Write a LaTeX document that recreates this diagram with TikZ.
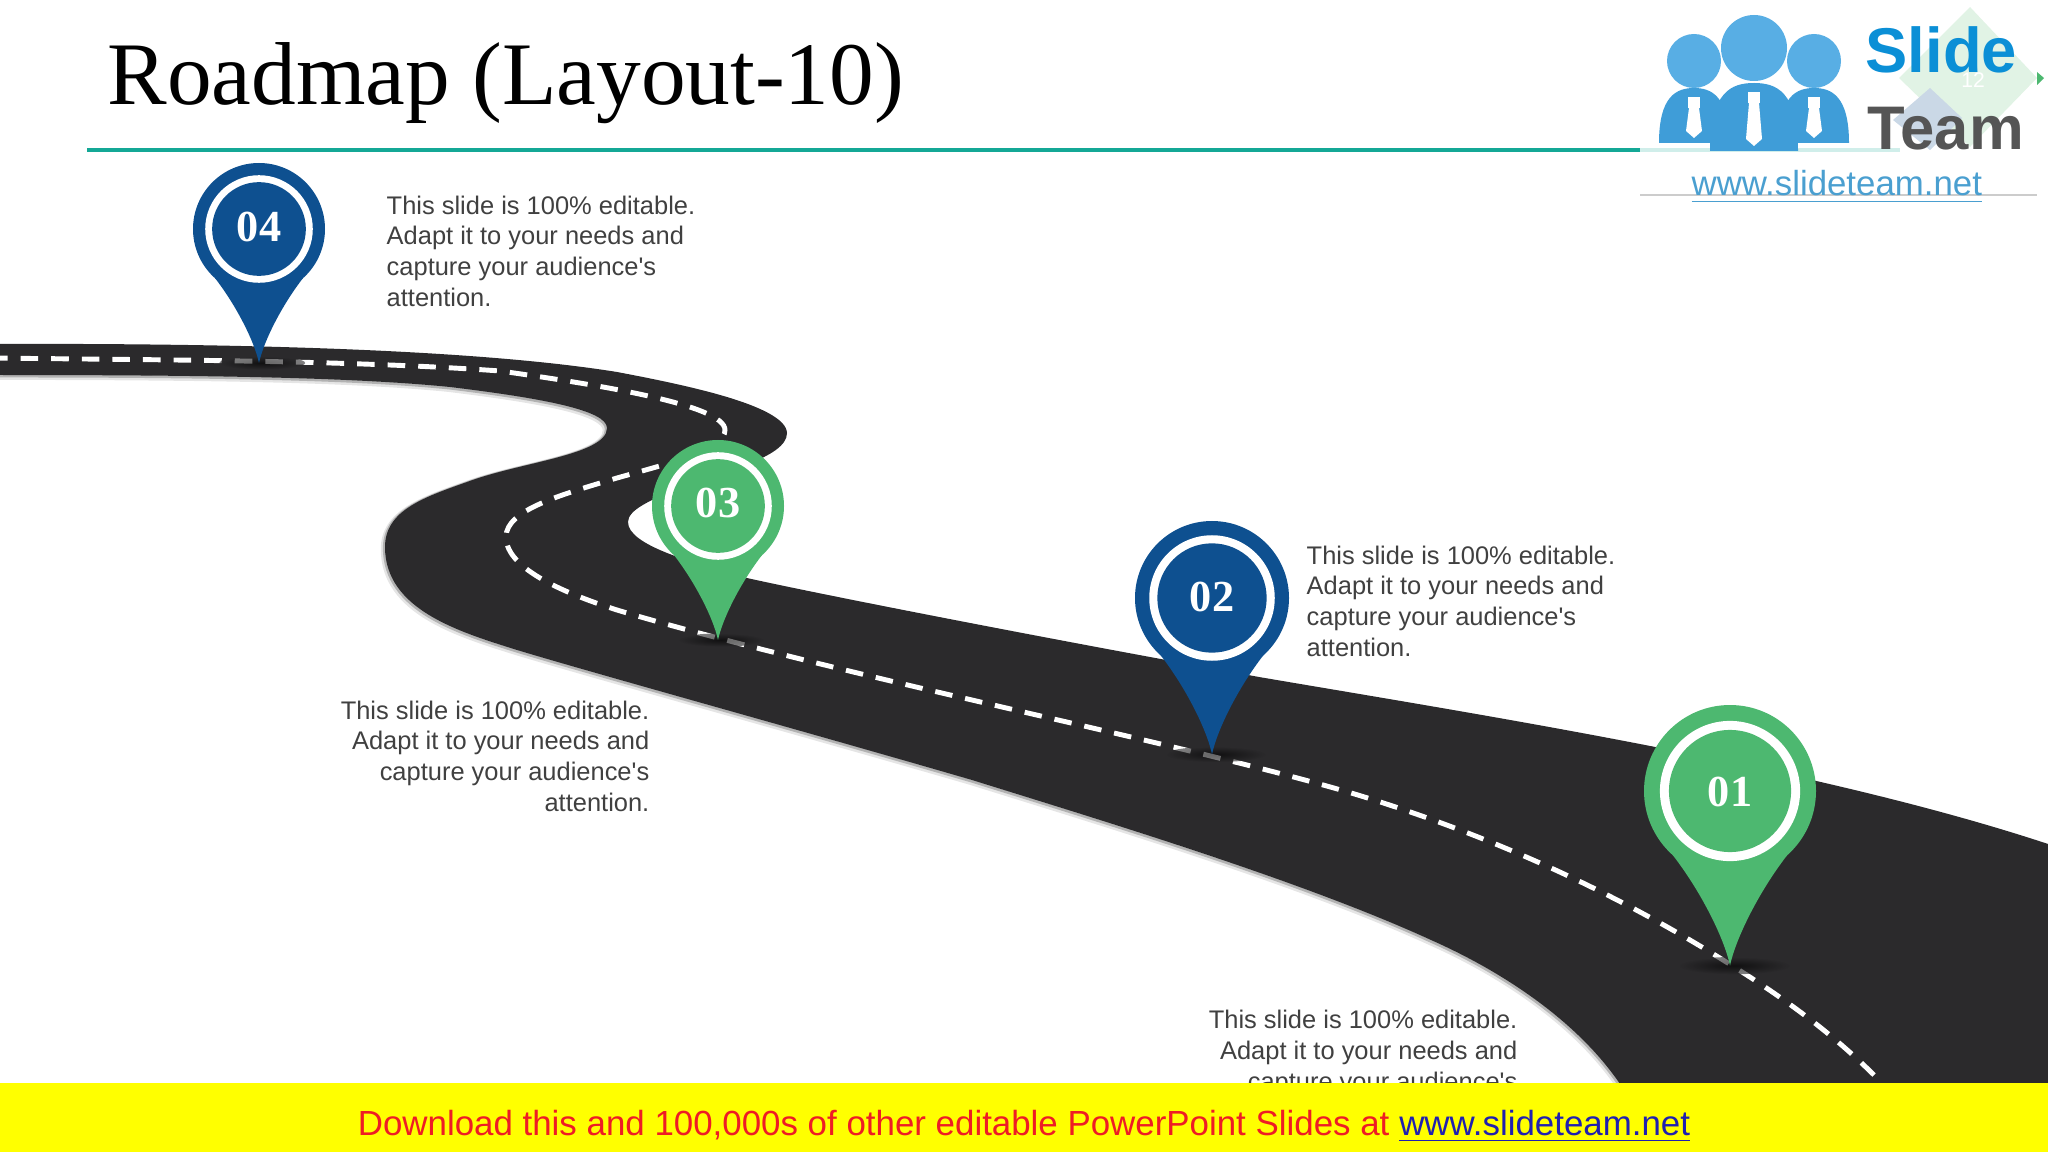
\documentclass[tikz,border=0pt]{standalone}
\usepackage{fontspec}
\setmainfont{Liberation Sans}
\newfontfamily\titlefont{Liberation Serif}
\usetikzlibrary{positioning}
\usepackage{xcolor}

\definecolor{roadgray}{HTML}{2B2A2C}
\definecolor{pinblue}{HTML}{0E5090}
\definecolor{pingreen}{HTML}{4DB870}
\definecolor{tealline}{HTML}{14A896}
\definecolor{bodygray}{HTML}{404040}
\definecolor{logoblue}{HTML}{3F9DD8}
\definecolor{logohead}{HTML}{58AEE4}
\definecolor{logoslide}{HTML}{0B8FD6}
\definecolor{logoteam}{HTML}{555555}
\definecolor{logourl}{HTML}{4A9FD0}
\definecolor{diamondgreen}{HTML}{E1F3E5}
\definecolor{diamondblue}{HTML}{CAD8E6}
\definecolor{banneryellow}{HTML}{FFFF00}
\definecolor{bannerred}{HTML}{EE1C25}
\definecolor{bannerblue}{HTML}{2020B0}

\tikzset{
    bodytext/.style={font=\fontsize{7.24}{8.73}\selectfont, text=bodygray, inner sep=0pt},
    pinnum/.style={font=\titlefont\fontsize{12.6}{12.6}\selectfont\bfseries, text=white, inner sep=0pt},
    roaddash/.style={white, line width=1.4pt, dash pattern=on 5pt off 3.7pt},
}

\newcommand{\blurbtop}{This slide is 100\% editable.\\Adapt it to your needs and\\capture your audience\textquotesingle s}

% x, y, radius, colour
\newcommand{\locpin}[4]{
    \begin{scope}[shift={(#1,#2)}, scale=#3]
        \shade[inner color=black, outer color=roadgray, opacity=.6] (0.05,2.03) ellipse (0.65 and 0.1);
        \fill[#4] (-.67,.74) .. controls (-.35,1.15) and (-.07,1.7) .. (0,2.03)
            .. controls (.07,1.7) and (.35,1.15) .. (.67,.74) -- cycle;
        \fill[#4] (0,0) circle (1);
        \fill[white] (0,0) circle (.815);
        \fill[#4] (0,0) circle (.71);
    \end{scope}
}

% x, head y, head radius, body half width, body top, body bottom
\newcommand{\logoman}[6]{
    \fill[logoblue] (#1-#4,#6) .. controls (#1-#4,#5+8) and (#1-#4*.5,#5) .. (#1,#5)
        .. controls (#1+#4*.5,#5) and (#1+#4,#5+8) .. (#1+#4,#6) -- cycle;
    \fill[logohead] (#1,#2) circle (#3);
    \fill[white] (#1-6,#5+9) rectangle (#1+6,#5+20);
    \fill[white] (#1-5,#5+20) -- (#1+5,#5+20) -- (#1+8,#6-12) -- (#1,#6-5) -- (#1-8,#6-12) -- cycle;
}

\def\roadupper{(-10,344) .. controls (250,343) and (480,350) .. (617,372)
    .. controls (680,384) and (786,405) .. (787,433)
    .. controls (787,458) and (720,472) .. (680,488)
    .. controls (650,500) and (628,510) .. (628,522)
    .. controls (628,545) and (690,562) .. (747,578)
    .. controls (800,590) and (1000,630) .. (1259,677)
    .. controls (1500,718) and (1830,770) .. (2060,848)}
\def\roadlower{(1630,1100) .. controls (1590,1030) and (1510,975) .. (1431,940)
    .. controls (1300,880) and (1100,820) .. (972,780)
    .. controls (800,730) and (600,675) .. (517,650)
    .. controls (460,632) and (385,610) .. (385,547)
    .. controls (385,510) and (425,497) .. (467,482)
    .. controls (520,462) and (607,455) .. (607,428)
    .. controls (607,410) and (540,398) .. (450,387)
    .. controls (350,377) and (200,375) .. (-10,375)}
\def\roadmid{(-10,358) .. controls (150,360) and (350,360) .. (500,371)
    .. controls (600,385) and (725,405) .. (725,430)
    .. controls (725,450) and (670,463) .. (617,478)
    .. controls (560,495) and (506,510) .. (506,537)
    .. controls (506,570) and (570,595) .. (617,610)
    .. controls (700,635) and (850,672) .. (972,700)
    .. controls (1100,730) and (1280,770) .. (1374,800)
    .. controls (1500,840) and (1620,895) .. (1731,965)
    .. controls (1790,1002) and (1835,1036) .. (1877,1078)}

\begin{document}
\begin{tikzpicture}[x=0.01cm, y=-0.01cm]
    \useasboundingbox (0,0) rectangle (2048,1152);
    \clip (0,0) rectangle (2048,1152);

    % road
    \draw[black!10, line width=1.6pt, xshift=-.4pt, yshift=-.6pt] \roadlower;
    \draw[black!30, line width=.8pt, xshift=-.2pt, yshift=-.3pt] \roadlower;
    \fill[roadgray] \roadupper -- (2060,1160) -- (1630,1160) -- \roadlower -- cycle;
    \draw[roaddash] \roadmid;

    % header
    \node (title) [anchor=base west, inner sep=0pt, font=\titlefont\fontsize{25.4}{28}\selectfont] at (107,105) {Roadmap (Layout-10)};
    \draw[tealline, line width=.9pt] (87,150) -- (1640,150);
    \draw[tealline!20, line width=.9pt] (1640,150) -- (1900,150);

    % logo
    \fill[diamondgreen] (1970,7) -- (2037,78) -- (1970,147) -- (1899,78) -- cycle;
    \fill[diamondblue] (1930,88) -- (1962,118) -- (1930,150) -- (1893,120) -- cycle;
    \fill[pingreen] (2037,72) -- (2044,78) -- (2037,85) -- cycle;
    \node (pagenum) [text=white, font=\fontsize{6}{6}\selectfont] at (1973,80) {12};
    \logoman{1694}{61}{27}{35}{88}{143}
    \logoman{1814}{61}{27}{35}{88}{143}
    \logoman{1754}{48}{33}{44}{83}{151}
    \node (slide) [anchor=base west, inner sep=0pt, text=logoslide, font=\fontsize{18}{18}\selectfont\bfseries] at (1865,73) {Slide};
    \node (team) [anchor=base west, inner sep=0pt, text=logoteam, font=\fontsize{17.5}{18}\selectfont\bfseries] at (1867,150) {Team};
    \draw[black!20, line width=.3pt] (1640,195) -- (2037,195);
    \node (url) [anchor=base west, inner sep=0pt, text=logourl, font=\fontsize{9.9}{10}\selectfont] at (1691,196) {\underline{www.slideteam.net}};

    % pins
    \locpin{259}{229}{66}{pinblue}
    \locpin{718}{506}{66}{pingreen}
    \locpin{1212}{598}{77}{pinblue}
    \locpin{1730}{791}{86}{pingreen}
    \node (pin04) [pinnum] at (259,227) {04};
    \node (pin03) [pinnum] at (718,503) {03};
    \node (pin02) [pinnum] at (1212,597) {02};
    \node (pin01) [pinnum] at (1730,792) {01};

    % texts
    \node (text04) [bodytext, anchor=north west, align=left] at (386,195) {\blurbtop\\attention.};
    \node (text03) [bodytext, anchor=north east, align=right] at (650,700) {\blurbtop\\attention.};
    \node (text02) [bodytext, anchor=north west, align=left] at (1306,545) {\blurbtop\\attention.};
    \node (text01) [bodytext, anchor=north east, align=right] at (1518,1009.5) {\blurbtop};

    % banner
    \fill[banneryellow] (0,1083) rectangle (2048,1152);
    \node (banner) [anchor=base, inner sep=0pt, text=bannerred, font=\fontsize{9.92}{10}\selectfont] at (1024,1135)
        {Download this and 100,000s of other editable PowerPoint Slides at \textcolor{bannerblue}{\underline{www.slideteam.net}}};
\end{tikzpicture}
\end{document}
